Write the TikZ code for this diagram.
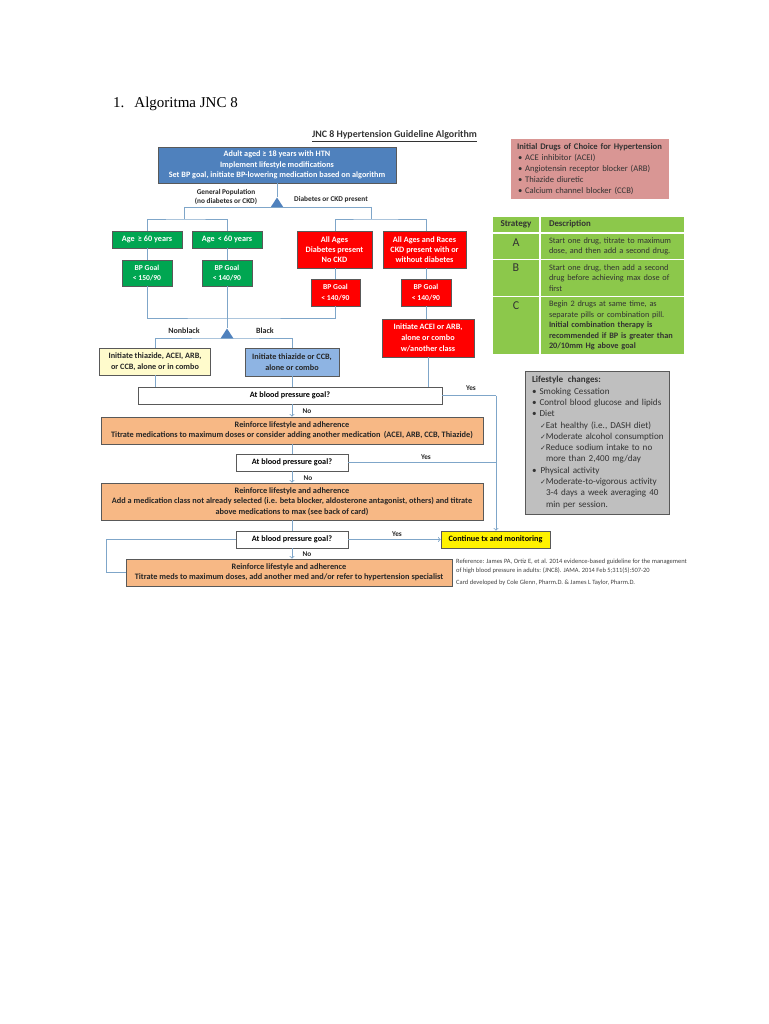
\documentclass[tikz,border=0pt]{standalone}
\usepackage{fontspec}
\setmainfont{Carlito}
\newfontfamily\headfont{Liberation Serif}
\newfontfamily\symfont{DejaVu Sans}
\newcommand{\ckm}{{\symfont\fontsize{7}{11}\selectfont ✓}}
\newcommand{\lead}{\hspace*{3pt}}
\newcommand{\leadb}{\hspace*{5pt}}
\usetikzlibrary{shapes.geometric}
\definecolor{mainblue}{HTML}{4F81BD}
\definecolor{agegreen}{HTML}{00A651}
\definecolor{linkblue}{HTML}{7FA6C9}
\definecolor{pinkbox}{HTML}{D99694}
\definecolor{tablegreen}{HTML}{8CC84B}
\definecolor{orangebox}{HTML}{F7B885}
\definecolor{paleyellow}{HTML}{FFFBCC}
\definecolor{paleblue}{HTML}{8EB4E3}
\definecolor{grayedge}{HTML}{595959}
\tikzset{
	box/.style={draw=grayedge,line width=0.7pt,align=center,inner sep=0pt,font=\fontsize{8.2}{10.3}\selectfont\bfseries},
	whitebox/.style={box,text=white},
	goalbox/.style={box,fill=white,font=\fontsize{8.2}{10}\selectfont\bfseries},
	orange/.style={box,fill=orangebox,text=black!85,font=\fontsize{8.3}{10.4}\selectfont\bfseries},
	cell/.style={fill=tablegreen,inner sep=0pt,align=left,text=black!80,font=\fontsize{8.3}{10.6}\selectfont},
	desccell/.style={cell,minimum width=143pt,text width=127pt,inner xsep=8pt},
	link/.style={draw=linkblue,line width=0.8pt},
	tag/.style={inner sep=0pt,align=center,font=\fontsize{7.3}{9.3}\selectfont\bfseries,text=black!85},
	tri/.style={fill=mainblue,isosceles triangle,isosceles triangle stretches,shape border rotate=90,minimum width=13pt,minimum height=10pt,inner sep=0pt,anchor=apex}
}
\begin{document}
\begin{tikzpicture}[x=1pt,y=-1pt]
	\useasboundingbox (0,0) rectangle (768,1024);
	\node (heading) at (175.5,104) [inner sep=0pt,font=\headfont\fontsize{15}{17}\selectfont] {1.\hspace{10pt}Algoritma JNC 8};
	\node (title) at (394.5,136) [inner sep=0pt,font=\fontsize{9.9}{11}\selectfont\bfseries,text=black!80] {\underline{JNC 8 Hypertension Guideline Algorithm}};

	\node (start) at (277,165) [whitebox,fill=mainblue,minimum width=238pt,minimum height=36pt] {Adult aged ≥ 18 years with HTN\\Implement lifestyle modifications\\Set BP goal, initiate BP-lowering medication based on algorithm};
	\node (split1) at (277,197) [tri] {};
	\node (gen) at (226,197) [tag] {General Population\\(no diabetes or CKD)};
	\node (dia) at (331,200) [tag] {Diabetes or CKD present};

	\node (age1) at (147,239.5) [whitebox,fill=agegreen,minimum width=70pt,minimum height=17pt] {Age\, ≥ 60 years};
	\node (age2) at (227,239.5) [whitebox,fill=agegreen,minimum width=70pt,minimum height=17pt] {Age\, < 60 years};
	\node (goal1) at (147,273) [whitebox,fill=agegreen,minimum width=50pt,minimum height=26pt,font=\fontsize{7.6}{10.3}\selectfont\bfseries] {BP Goal\\< 150/90};
	\node (goal2) at (227,273) [whitebox,fill=agegreen,minimum width=50pt,minimum height=26pt,font=\fontsize{7.6}{10.3}\selectfont\bfseries] {BP Goal\\< 140/90};
	\node (red1) at (334.5,249.5) [whitebox,fill=red,minimum width=75pt,minimum height=37pt] {All Ages\\Diabetes present\\No CKD};
	\node (red2) at (424.5,249.5) [whitebox,fill=red,minimum width=83pt,minimum height=37pt] {All Ages and Races\\CKD present with or\\without diabetes};
	\node (goal3) at (335.5,292.5) [whitebox,fill=red,minimum width=49pt,minimum height=27pt,font=\fontsize{7.6}{10.3}\selectfont\bfseries] {BP Goal\\< 140/90};
	\node (goal4) at (426,292.5) [whitebox,fill=red,minimum width=50pt,minimum height=27pt,font=\fontsize{7.6}{10.3}\selectfont\bfseries] {BP Goal\\< 140/90};
	\node (acei) at (428,338) [whitebox,fill=red,minimum width=92pt,minimum height=38pt,font=\fontsize{8.2}{10.7}\selectfont\bfseries] {Initiate ACEI or ARB,\\alone or combo\\w/another class};

	\node (split2) at (227,328) [tri] {};
	\node (nonblack) at (184,331) [tag,font=\fontsize{8}{9}\selectfont\bfseries] {Nonblack};
	\node (black) at (265,331) [tag,font=\fontsize{8}{9}\selectfont\bfseries] {Black};
	\node (thia) at (155,361.5) [box,fill=paleyellow,text=black!85,minimum width=111pt,minimum height=27pt,font=\fontsize{8.2}{11.6}\selectfont\bfseries] {Initiate thiazide, ACEI, ARB,\\or CCB, alone or in combo};
	\node (ccb) at (292,362) [box,fill=paleblue,text=black!85,minimum width=94pt,minimum height=28pt,font=\fontsize{8.2}{11.6}\selectfont\bfseries] {Initiate thiazide or CCB,\\alone or combo};

	\node (bp1) at (290,395.5) [goalbox,minimum width=304pt,minimum height=17pt] {At blood pressure goal?};
	\node (rein1) at (292,430.5) [orange,minimum width=382pt,minimum height=27pt] {Reinforce lifestyle and adherence\\Titrate medications to maximum doses or consider adding another medication\, (ACEI, ARB, CCB, Thiazide)};
	\node (bp2) at (292,462.5) [goalbox,minimum width=112pt,minimum height=17pt] {At blood pressure goal?};
	\node (rein2) at (292,501.5) [orange,minimum width=382pt,minimum height=37pt] {Reinforce lifestyle and adherence\\Add a medication class not already selected (i.e. beta blocker, aldosterone antagonist, others) and titrate\\above medications to max (see back of card)};
	\node (bp3) at (292,539.5) [goalbox,minimum width=112pt,minimum height=17pt] {At blood pressure goal?};
	\node (rein3) at (289,572.5) [orange,minimum width=326pt,minimum height=27pt] {Reinforce lifestyle and adherence\\Titrate meds to maximum doses, add another med and/or refer to hypertension specialist};
	\node (cont) at (495.5,539.5) [box,fill=yellow,text=black,minimum width=109pt,minimum height=17pt] {Continue tx and monitoring};

	\node (yes1) at (471,388) [tag] {Yes};
	\node (yes2) at (426,457) [tag] {Yes};
	\node (yes3) at (397,534) [tag] {Yes};
	\node (no1) at (307,411) [tag] {No};
	\node (no2) at (308,478) [tag] {No};
	\node (no3) at (307,554) [tag] {No};

	\coordinate (left) at (184,207);
	\coordinate (right) at (371,207);
	\coordinate (left2) at (184,219);
	\coordinate (right2) at (371,219);
	\coordinate (gather) at (227,318);
	\coordinate (fork) at (227,338);
	\coordinate (yesdrop) at (496,395.5);
	\coordinate (loop) at (106,539.5);
	\draw[link] (start) -- (split1.apex);
	\draw[link] (left) -- (right);
	\draw[link] (left) -- (left2);
	\draw[link] (right) -- (right2);
	\draw[link] (age1) |- (left2) -| (age2);
	\draw[link] (red1.north -| goal3) |- (right2) -| (red2.north -| goal4);
	\draw[link] (age1) -- (goal1);
	\draw[link] (age2) -- (goal2);
	\draw[link] (red1.south -| goal3) -- (goal3);
	\draw[link] (red2.south -| goal4) -- (goal4);
	\draw[link] (goal4) -- (goal4 |- acei.north);
	\draw[link] (goal1) |- (gather) -| (goal3);
	\draw[link] (goal2) -- (split2.apex);
	\draw[link] (thia.north) |- (fork) -| (ccb.north);
	\draw[link] (thia.south) -- (thia.south |- bp1.north);
	\draw[link] (ccb.south) -- (ccb.south |- bp1.north);
	\draw[link] (acei.south) -- (acei.south |- bp1.north);
	\draw[link,->] (bp1.south -| rein1) -- (rein1.north);
	\draw[link] (rein1) -- (bp2);
	\draw[link,->] (bp2) -- (rein2);
	\draw[link] (rein2) -- (bp3);
	\draw[link,->] (bp3) -- (rein3.north -| bp3);
	\draw[link] (bp1) -- (yesdrop);
	\draw[link,->] (yesdrop) -- (cont.north -| yesdrop);
	\draw[link] (bp2) -- (bp2 -| yesdrop);
	\draw[link,->] (bp3) -- (cont);
	\draw[link] (bp3) -- (loop) |- (rein3);

	\node (drugs) at (590,169) [fill=pinkbox,minimum width=158pt,minimum height=60pt,text width=152pt,inner xsep=3pt,inner ysep=0pt,align=left,text=black!80,font=\fontsize{8.6}{10.8}\selectfont] {\lead\textbf{Initial Drugs of Choice for Hypertension}\\\lead\hspace*{1pt}• ACE inhibitor (ACEI)\\\lead\hspace*{1pt}• Angiotensin receptor blocker (ARB)\\\lead\hspace*{1pt}• Thiazide diuretic\\\lead\hspace*{1pt}• Calcium channel blocker (CCB)};

	\node (strat) at (516,224.5) [cell,minimum width=46pt,minimum height=15pt,align=center,font=\fontsize{9}{10}\selectfont\bfseries] {Strategy};
	\node (desc) at (612.5,224.5) [desccell,minimum height=15pt,font=\fontsize{8.8}{10}\selectfont\bfseries] {Description};
	\node (rowa) at (516,246.5) [cell,minimum width=46pt,minimum height=25pt] {};
	\node (rowb) at (516,278) [cell,minimum width=46pt,minimum height=36pt] {};
	\node (rowc) at (516,325.5) [cell,minimum width=46pt,minimum height=57pt] {};
	\node (desca) at (612.5,246.5) [desccell,minimum height=25pt] {Start one drug, titrate to maximum\\dose, and then add a second drug.};
	\node (descb) at (612.5,278) [desccell,minimum height=36pt] {Start one drug, then add a second\\drug before achieving max dose of\\first};
	\node (descc) at (612.5,325.5) [desccell,minimum height=57pt] {Begin 2 drugs at same time, as\\separate pills or combination pill.\\\textbf{Initial combination therapy is}\\\textbf{recommended if BP is greater than}\\\textbf{20/10mm Hg above goal}};
	\node (lettera) at (516,243) [inner sep=0pt,font=\fontsize{12}{13}\selectfont,text=black!80] {A};
	\node (letterb) at (516,268) [inner sep=0pt,font=\fontsize{12}{13}\selectfont,text=black!80] {B};
	\node (letterc) at (516,306) [inner sep=0pt,font=\fontsize{12}{13}\selectfont,text=black!80] {C};

	\node (life) at (597,442.5) [draw=grayedge,line width=1pt,fill=black!25,minimum width=144pt,minimum height=143pt,text width=140pt,inner xsep=2pt,inner ysep=0pt,align=left,text=black!80,font=\fontsize{9.1}{11.3}\selectfont] {\leadb\textbf{Lifestyle\, changes:}\\\leadb• Smoking Cessation\\\leadb• Control blood glucose and lipids\\\leadb• Diet\\\leadb\hspace*{8pt}\ckm Eat healthy (i.e., DASH diet)\\\leadb\hspace*{8pt}\ckm Moderate alcohol consumption\\\leadb\hspace*{8pt}\ckm Reduce sodium intake to no\\\leadb\hspace*{14pt}more than 2,400 mg/day\\\leadb•\hspace{4pt}Physical activity\\\leadb\hspace*{8pt}\ckm Moderate-to-vigorous activity\\\leadb\hspace*{14pt}3-4 days a week averaging 40\\\leadb\hspace*{14pt}min per session.};

	\node (refs) at (456,572.5) [anchor=west,inner sep=0pt,align=left,text=black!75,font=\fontsize{6.5}{9}\selectfont] {Reference: James PA, Ortiz E, et al. 2014 evidence-based guideline for the management\\of high blood pressure in adults: (JNC8). JAMA. 2014 Feb 5;311(5):507-20\\[3pt]Card developed by Cole Glenn, Pharm.D. \& James L Taylor, Pharm.D.};
\end{tikzpicture}
\end{document}
